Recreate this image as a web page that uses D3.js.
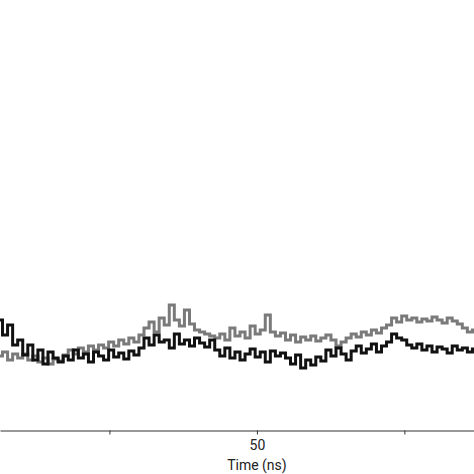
<!DOCTYPE html>
<html>
<head>
<meta charset="utf-8">
<script src="https://d3js.org/d3.v7.min.js"></script>
<style>body{margin:0;background:#fff}</style>
</head>
<body>
<svg id="chart" width="474" height="474"></svg>
<script>
// time axis in ns, values in nm-ish units
const tStart = 41.29, tStep = 0.1713;
const blackVals = [1.10,0.95,1.05,0.85,0.90,
  0.75,0.85,0.70,0.80,0.66,0.78,0.72,0.68,
  0.74,0.70,0.80,0.72,0.76,0.68,0.78,0.74,0.70,0.80,0.73,0.77,0.71,0.79,0.75,0.82,
  0.92,0.85,0.95,0.88,0.90,0.82,0.96,0.86,0.90,0.84,0.92,0.87,0.83,0.90,
  0.80,0.74,0.82,0.72,0.78,0.70,0.76,0.81,0.73,0.78,0.68,0.79,0.74,0.77,
  0.72,0.66,0.75,0.62,0.70,0.65,0.73,0.69,
  0.80,0.74,0.82,0.76,0.70,0.79,0.84,0.77,0.81,0.86,0.78,0.84,0.88,
  0.96,0.92,0.90,
  0.85,0.82,0.86,0.80,0.84,0.78,0.83,0.81,0.77,0.84,0.80,0.82,0.78,0.81];
const grayVals = [0.74,0.78,0.70,0.76,0.72,
  0.76,0.70,0.74,0.68,0.72,0.66,0.71,0.69,
  0.75,0.80,0.76,0.82,0.78,0.84,0.80,0.85,0.82,0.88,0.84,0.90,0.86,0.92,0.88,0.95,
  1.02,1.08,0.98,1.12,1.05,1.25,1.10,1.04,1.20,1.06,1.00,0.98,0.96,0.94,
  0.92,0.96,0.90,1.02,0.94,0.98,0.92,1.04,0.96,1.00,1.15,0.98,0.94,0.97,
  0.90,0.95,0.88,0.93,0.90,0.94,0.89,0.92,
  0.95,0.90,0.84,0.88,0.92,0.96,0.93,0.98,0.95,1.00,0.97,1.02,1.05,
  1.12,1.08,1.14,
  1.10,1.12,1.08,1.11,1.09,1.13,1.10,1.07,1.12,1.09,1.06,1.02,0.98,1.00];
const tickVals = [45, 50, 55];
const tickLabels = {50: "50"};

const svg = d3.select("#chart");
const x = d3.scaleLinear().domain([tStart, 57.36]).range([0, 474]);
const y = d3.scaleLinear().domain([0, 4.3]).range([430, 0]);

const line = d3.line()
  .x((d, i) => x(tStart + i * tStep))
  .y(d => y(d))
  .curve(d3.curveStep);

svg.append("path").datum(grayVals)
  .attr("fill", "none").attr("stroke", "#7a7a7a").attr("stroke-width", 3)
  .attr("d", line);
svg.append("path").datum(blackVals)
  .attr("fill", "none").attr("stroke", "#111").attr("stroke-width", 3)
  .attr("d", line);

const axis = svg.append("g").attr("transform", "translate(0,430.5)")
  .call(d3.axisBottom(x).tickValues(tickVals).tickSize(4).tickSizeOuter(0)
    .tickFormat(d => tickLabels[d] || ""));
axis.select(".domain").attr("stroke", "#333");
axis.selectAll("line").attr("stroke", "#333");
axis.selectAll("text").attr("font-family", "Roboto, sans-serif")
  .attr("font-size", 14).attr("fill", "#222").attr("dy", "0.9em");

svg.append("text").attr("x", x(50)).attr("y", 470)
  .attr("text-anchor", "middle").attr("font-family", "Roboto, sans-serif")
  .attr("font-size", 14).attr("fill", "#222").text("Time (ns)");
</script>
</body>
</html>
